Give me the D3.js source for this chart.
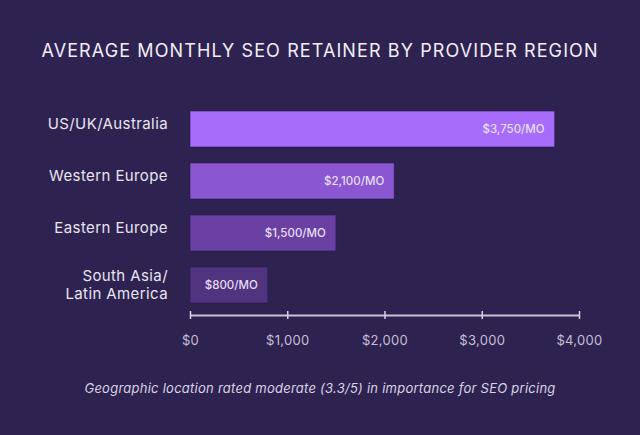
<!DOCTYPE html>
<html>
<head>
<meta charset="utf-8">
<script src="https://cdn.jsdelivr.net/npm/d3@7"></script>
<style>
  html, body { margin: 0; padding: 0; background: #2e2350; }
  svg { display: block; font-family: Inter, "Noto Sans", sans-serif; }
</style>
</head>
<body>
<div id="chart"></div>
<script>
const regions = ['US/UK/Australia', 'Western Europe', 'Eastern Europe', 'South Asia/\nLatin America'];
const retainers = [3750, 2100, 1500, 800];
const barColors = ['#a86cfb', '#8a56d2', '#6a41a3', '#51347f'];
const tickValues = [0, 1000, 2000, 3000, 4000];

const width = 640, height = 435;

const svg = d3.select('#chart')
    .append('svg')
    .attr('width', width)
    .attr('height', height);

svg.append('rect')
    .attr('width', width)
    .attr('height', height)
    .attr('fill', '#2e2350');

svg.append('text')
    .attr('x', width / 2)
    .attr('y', 57)
    .attr('text-anchor', 'middle')
    .attr('fill', '#f1edf8')
    .style('font-size', '18px')
    .style('letter-spacing', '1.1px')
    .text('AVERAGE MONTHLY SEO RETAINER BY PROVIDER REGION');

const x = d3.scaleLinear()
    .domain([0, 4000])
    .range([190, 579]);

const y = d3.scaleBand()
    .domain(regions)
    .range([103, 311])
    .paddingInner(16 / 52)
    .paddingOuter(8 / 52);

// bars
svg.selectAll('.bar')
    .data(regions)
    .enter()
    .append('rect')
    .attr('class', 'bar')
    .attr('x', x(0))
    .attr('y', d => y(d))
    .attr('width', (d, i) => x(retainers[i]) - x(0))
    .attr('height', y.bandwidth())
    .attr('fill', (d, i) => barColors[i])
    .attr('stroke', 'rgba(40, 25, 80, 0.6)')
    .attr('stroke-width', 1);

// value labels inside bars
svg.selectAll('.value')
    .data(regions)
    .enter()
    .append('text')
    .attr('class', 'value')
    .attr('x', (d, i) => x(retainers[i]) - 10)
    .attr('y', d => y(d) + y.bandwidth() / 2 + 4)
    .attr('text-anchor', 'end')
    .attr('fill', '#e6def4')
    .style('font-size', '11.5px')
    .style('font-weight', '500')
    .text((d, i) => '$' + d3.format(',')(retainers[i]) + '/MO');

// category labels (one text per line)
const catLines = regions.flatMap(d => {
    const lines = d.split('\n');
    const cy = y(d) + y.bandwidth() / 2;
    if (lines.length === 1) return [{ text: d, y: cy }];
    return lines.map((line, k) => ({ text: line, y: cy + 5 + (k - 0.5) * 18 }));
});

svg.selectAll('.cat')
    .data(catLines)
    .enter()
    .append('text')
    .attr('class', 'cat')
    .attr('x', 168)
    .attr('y', d => d.y)
    .attr('text-anchor', 'end')
    .attr('fill', '#e9e4f1')
    .style('font-size', '15px')
    .style('letter-spacing', '0.4px')
    .text(d => d.text);

// x axis
const axis = svg.append('g')
    .attr('transform', 'translate(0, 315)')
    .call(d3.axisBottom(x)
        .tickValues(tickValues)
        .tickSize(0)
        .tickFormat(d => '$' + d3.format(',')(d)));

axis.select('.domain')
    .attr('stroke', '#c9c2d8')
    .attr('stroke-width', 2);

axis.selectAll('.tick line')
    .attr('y1', -4)
    .attr('y2', 4)
    .attr('stroke', '#d8d2e4')
    .attr('stroke-width', 1.5);

axis.selectAll('.tick text')
    .attr('y', 21)
    .attr('fill', '#c6bfd6')
    .style('font-family', 'Inter, "Noto Sans", sans-serif')
    .style('font-size', '13px')
    .style('letter-spacing', '0.3px');

// footnote
svg.append('text')
    .attr('x', width / 2)
    .attr('y', 393)
    .attr('text-anchor', 'middle')
    .attr('fill', '#d9d2e6')
    .style('font-size', '13px')
    .style('font-style', 'italic')
    .style('letter-spacing', '0.25px')
    .text('Geographic location rated moderate (3.3/5) in importance for SEO pricing');
</script>
</body>
</html>
